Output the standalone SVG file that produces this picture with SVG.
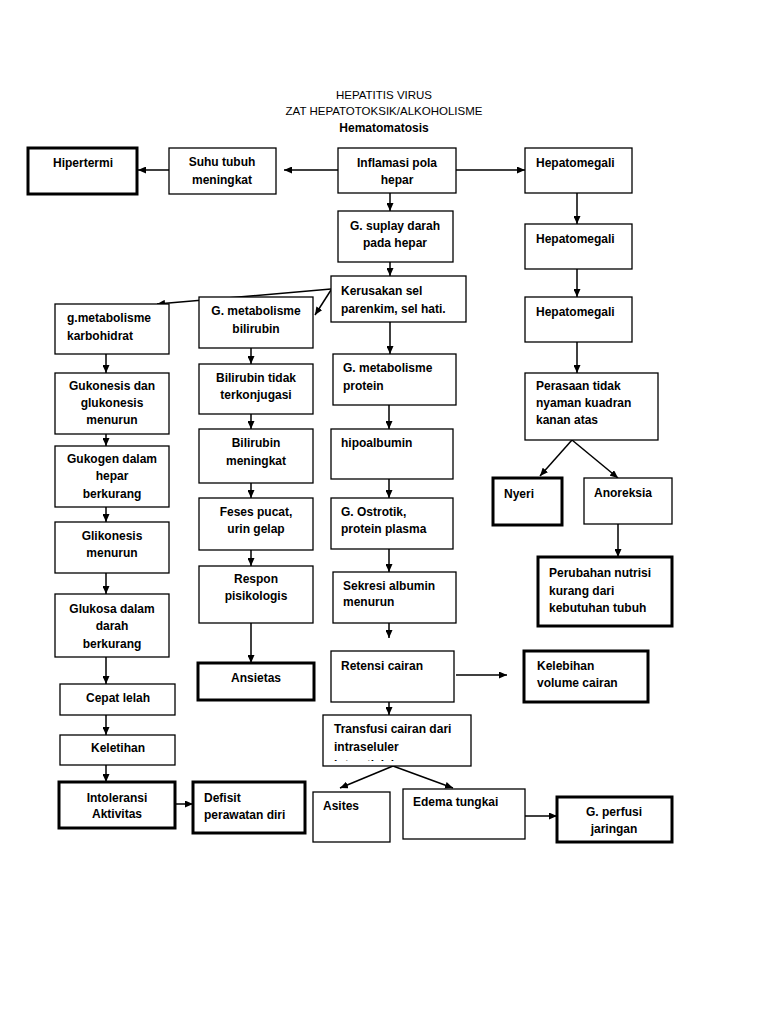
<svg xmlns="http://www.w3.org/2000/svg" width="768" height="1024" viewBox="0 0 768 1024">
<style>
.b{fill:#fff;stroke:#000;stroke-width:1.3}
.t{fill:#fff;stroke:#000;stroke-width:3}
text{font-family:"Liberation Sans",Arial,sans-serif;font-size:12px;font-weight:bold;fill:#000}
.c{text-anchor:middle}
.h{font-weight:normal;font-size:11.5px}
.e line{stroke:#000;stroke-width:1.5;marker-end:url(#a)}
</style>
<defs>
<marker id="a" markerUnits="userSpaceOnUse" markerWidth="8" markerHeight="7" refX="8" refY="3.5" orient="auto"><path d="M0,0 L8,3.5 L0,7 z" fill="#000"/></marker>
<clipPath id="cp"><rect x="323" y="715" width="148" height="46"/></clipPath>
</defs>
<rect width="768" height="1024" fill="#fff"/>
<g id="title">
<text class="c h" x="384" y="99">HEPATITIS VIRUS</text>
<text class="c h" x="384" y="115">ZAT HEPATOTOKSIK/ALKOHOLISME</text>
<text class="c" x="384" y="132">Hematomatosis</text>
</g>
<g class="e" id="connectors">
<line x1="338" y1="170" x2="284" y2="170"/>
<line x1="169" y1="170" x2="138" y2="170"/>
<line x1="456" y1="170" x2="525" y2="170"/>
<line x1="390" y1="193" x2="390" y2="211"/>
<line x1="390" y1="262" x2="390" y2="276"/>
<line x1="331" y1="289" x2="157" y2="304"/>
<line x1="331" y1="290" x2="315" y2="315"/>
<line x1="390" y1="322" x2="390" y2="354"/>
<line x1="577" y1="193" x2="577" y2="224"/>
<line x1="577" y1="269" x2="577" y2="297"/>
<line x1="577" y1="342" x2="577" y2="373"/>
<line x1="572" y1="440" x2="540" y2="476"/>
<line x1="572" y1="440" x2="618" y2="478"/>
<line x1="618" y1="524" x2="618" y2="557"/>
<line x1="106" y1="354" x2="106" y2="373"/>
<line x1="106" y1="434" x2="106" y2="446"/>
<line x1="106" y1="507" x2="106" y2="522"/>
<line x1="106" y1="573" x2="106" y2="594"/>
<line x1="106" y1="657" x2="106" y2="684"/>
<line x1="106" y1="715" x2="106" y2="735"/>
<line x1="106" y1="765" x2="106" y2="782"/>
<line x1="175" y1="804" x2="193" y2="804"/>
<line x1="251" y1="348" x2="251" y2="364"/>
<line x1="251" y1="414" x2="251" y2="429"/>
<line x1="251" y1="483" x2="251" y2="498"/>
<line x1="251" y1="550" x2="251" y2="566"/>
<line x1="251" y1="623" x2="251" y2="663"/>
<line x1="389" y1="405" x2="389" y2="429"/>
<line x1="389" y1="479" x2="389" y2="498"/>
<line x1="389" y1="549" x2="389" y2="572"/>
<line x1="389" y1="623" x2="389" y2="638"/>
<line x1="456" y1="675" x2="507" y2="675"/>
<line x1="389" y1="702" x2="389" y2="715"/>
<line x1="393" y1="766" x2="340" y2="788"/>
<line x1="393" y1="766" x2="453" y2="788"/>
<line x1="525" y1="816" x2="557" y2="816"/>
</g>
<g id="hipertermi"><rect class="t" x="28" y="148" width="109" height="46"/><text class="c" x="83" y="167">Hipertermi</text></g>
<g id="suhu"><rect class="b" x="169" y="148" width="107" height="46"/><text class="c" x="222" y="166">Suhu tubuh</text><text class="c" x="222" y="184">meningkat</text></g>
<g id="inflamasi"><rect class="b" x="338" y="148" width="118" height="45"/><text class="c" x="397" y="167">Inflamasi pola</text><text class="c" x="397" y="184">hepar</text></g>
<g id="hep1"><rect class="b" x="525" y="148" width="107" height="45"/><text x="536" y="167">Hepatomegali</text></g>
<g id="suplay"><rect class="b" x="338" y="211" width="115" height="51"/><text class="c" x="395" y="230">G. suplay darah</text><text class="c" x="395" y="247">pada hepar</text></g>
<g id="hep2"><rect class="b" x="525" y="224" width="107" height="45"/><text x="536" y="243">Hepatomegali</text></g>
<g id="kerusakan"><rect class="b" x="331" y="276" width="135" height="46"/><text x="341" y="295">Kerusakan sel</text><text x="341" y="313">parenkim, sel hati.</text></g>
<g id="hep3"><rect class="b" x="525" y="297" width="107" height="45"/><text x="536" y="316">Hepatomegali</text></g>
<g id="karbo"><rect class="b" x="55" y="304" width="114" height="50"/><text x="67" y="322">g.metabolisme</text><text x="67" y="340">karbohidrat</text></g>
<g id="bilirubin"><rect class="b" x="199" y="297" width="114" height="51"/><text class="c" x="256" y="315">G. metabolisme</text><text class="c" x="256" y="333">bilirubin</text></g>
<g id="protein"><rect class="b" x="333" y="354" width="123" height="51"/><text x="343" y="372">G. metabolisme</text><text x="343" y="390">protein</text></g>
<g id="gukonesis"><rect class="b" x="55" y="373" width="114" height="61"/><text class="c" x="112" y="390">Gukonesis dan</text><text class="c" x="112" y="407">glukonesis</text><text class="c" x="112" y="424">menurun</text></g>
<g id="biltidak"><rect class="b" x="199" y="364" width="114" height="50"/><text class="c" x="256" y="382">Bilirubin tidak</text><text class="c" x="256" y="399">terkonjugasi</text></g>
<g id="perasaan"><rect class="b" x="525" y="373" width="133" height="67"/><text x="536" y="390">Perasaan tidak</text><text x="536" y="407">nyaman kuadran</text><text x="536" y="424">kanan atas</text></g>
<g id="gukogen"><rect class="b" x="55" y="446" width="114" height="61"/><text class="c" x="112" y="463">Gukogen dalam</text><text class="c" x="112" y="480">hepar</text><text class="c" x="112" y="498">berkurang</text></g>
<g id="bilmeningkat"><rect class="b" x="199" y="429" width="114" height="54"/><text class="c" x="256" y="447">Bilirubin</text><text class="c" x="256" y="465">meningkat</text></g>
<g id="hipoalbumin"><rect class="b" x="331" y="429" width="122" height="50"/><text x="341" y="447">hipoalbumin</text></g>
<g id="nyeri"><rect class="t" x="493" y="478" width="69" height="47"/><text x="504" y="498">Nyeri</text></g>
<g id="anoreksia"><rect class="b" x="584" y="478" width="88" height="46"/><text x="594" y="497">Anoreksia</text></g>
<g id="glikonesis"><rect class="b" x="55" y="522" width="114" height="51"/><text class="c" x="112" y="540">Glikonesis</text><text class="c" x="112" y="557">menurun</text></g>
<g id="feses"><rect class="b" x="199" y="498" width="114" height="52"/><text class="c" x="256" y="516">Feses pucat,</text><text class="c" x="256" y="533">urin gelap</text></g>
<g id="ostrotik"><rect class="b" x="331" y="498" width="122" height="51"/><text x="341" y="516">G. Ostrotik,</text><text x="341" y="533">protein plasma</text></g>
<g id="perubahan"><rect class="t" x="538" y="557" width="134" height="69"/><text x="549" y="577">Perubahan nutrisi</text><text x="549" y="595">kurang dari</text><text x="549" y="612">kebutuhan tubuh</text></g>
<g id="glukosa"><rect class="b" x="55" y="594" width="114" height="63"/><text class="c" x="112" y="613">Glukosa dalam</text><text class="c" x="112" y="630">darah</text><text class="c" x="112" y="648">berkurang</text></g>
<g id="respon"><rect class="b" x="199" y="566" width="114" height="57"/><text class="c" x="256" y="583">Respon</text><text class="c" x="256" y="600">pisikologis</text></g>
<g id="sekresi"><rect class="b" x="333" y="572" width="123" height="51"/><text x="343" y="590">Sekresi albumin</text><text x="343" y="606">menurun</text></g>
<g id="ansietas"><rect class="t" x="198" y="663" width="116" height="37"/><text class="c" x="256" y="682">Ansietas</text></g>
<g id="retensi"><rect class="b" x="331" y="651" width="123" height="51"/><text x="341" y="670">Retensi cairan</text></g>
<g id="kelebihan"><rect class="t" x="524" y="651" width="124" height="51"/><text x="537" y="670">Kelebihan</text><text x="537" y="687">volume cairan</text></g>
<g id="cepat"><rect class="b" x="60" y="684" width="115" height="31"/><text class="c" x="118" y="702">Cepat lelah</text></g>
<g id="transfusi"><rect class="b" x="323" y="715" width="148" height="51"/><text x="334" y="733">Transfusi cairan dari</text><text x="334" y="751">intraseluler</text><text x="334" y="769" clip-path="url(#cp)">interstisial</text></g>
<g id="keletihan"><rect class="b" x="60" y="735" width="115" height="30"/><text class="c" x="118" y="752">Keletihan</text></g>
<g id="intoleransi"><rect class="t" x="59" y="782" width="116" height="46"/><text class="c" x="117" y="802">Intoleransi</text><text class="c" x="117" y="818">Aktivitas</text></g>
<g id="defisit"><rect class="t" x="193" y="782" width="112" height="51"/><text x="204" y="802">Defisit</text><text x="204" y="819">perawatan diri</text></g>
<g id="asites"><rect class="b" x="313" y="792" width="77" height="50"/><text x="323" y="810">Asites</text></g>
<g id="edema"><rect class="b" x="403" y="789" width="122" height="50"/><text x="413" y="806">Edema tungkai</text></g>
<g id="perfusi"><rect class="t" x="557" y="797" width="115" height="45"/><text class="c" x="614" y="816">G. perfusi</text><text class="c" x="614" y="833">jaringan</text></g>
</svg>
